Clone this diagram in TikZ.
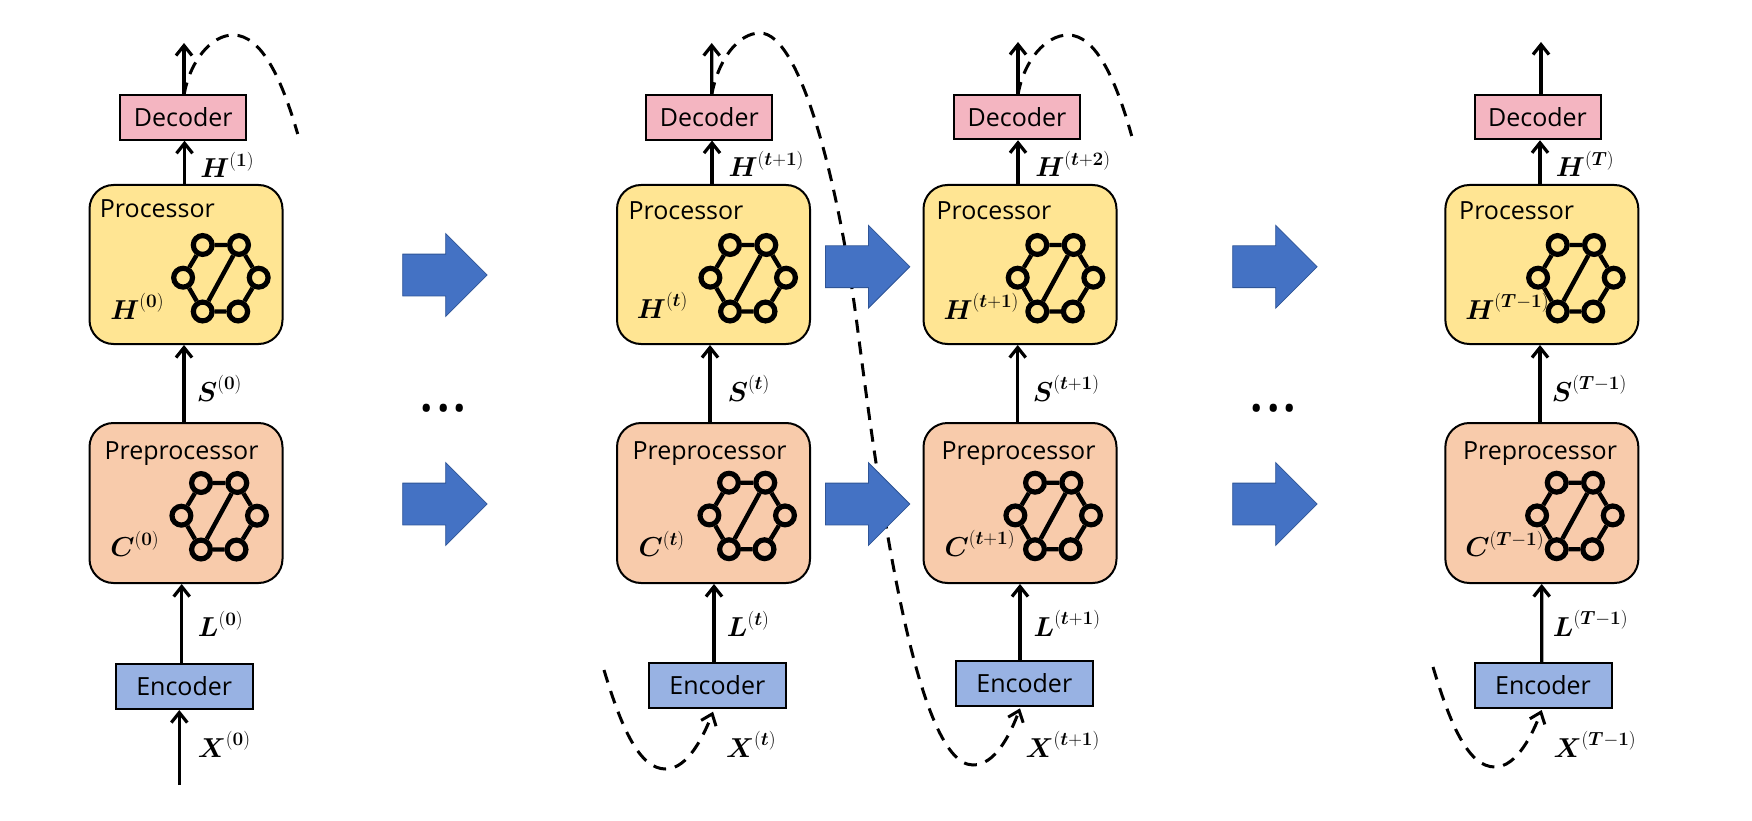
\documentclass[tikz,border=0pt]{standalone}
\usepackage{amsmath}
\usepackage[no-math]{fontspec}
\setmainfont{Open Sans}
\usetikzlibrary{arrows.meta,shapes.arrows}
\DeclareMathSizes{24.88}{24.88}{17.28}{12}
\definecolor{decC}{HTML}{F4B5C1}
\definecolor{encC}{HTML}{98B2E3}
\definecolor{procC}{HTML}{FFE593}
\definecolor{prepC}{HTML}{F8CBAB}
\definecolor{bluefill}{HTML}{4472C4}
\definecolor{blueline}{HTML}{2F5597}
\tikzset{
  boxtext/.style={font=\fontsize{25}{30}\selectfont,text=black},
  sqbox/.style={draw=black,line width=2pt,inner sep=0pt,outer sep=0pt,boxtext},
  decbox/.style={sqbox,fill=decC,minimum width=126pt,minimum height=44.5pt},
  encbox/.style={sqbox,fill=encC,minimum width=137pt,minimum height=45pt},
  bigbox/.style={draw=black,line width=2pt,rounded corners=24pt,inner sep=0pt,outer sep=0pt,minimum width=193pt},
  procbox/.style={bigbox,fill=procC,minimum height=159pt},
  prepbox/.style={bigbox,fill=prepC,minimum height=160pt},
  boxlabel/.style={boxtext,inner sep=0pt,anchor=base west},
  preplabel/.style={boxtext,inner sep=0pt,anchor=base},
  mlabel/.style={font=\fontsize{24.88}{30}\selectfont,scale=1.1,inner sep=0pt,anchor=base west,xshift=-1.5pt},
  gn/.style={circle,draw=black,line width=5.2pt,minimum size=18.8pt,inner sep=0pt},
  gedge/.style={line width=4.4pt,draw=black},
  conn/.style={line width=3.2pt,-{Straight Barb[length=10pt,width=16pt,line width=3.2pt]},shorten >=1pt},
  loopback/.style={line width=3pt,dash pattern=on 13pt off 9pt},
  loopend/.style={loopback,-{Straight Barb[length=10pt,width=16pt,line width=3pt]}},
  bluearrow/.style={single arrow,fill=bluefill,draw=blueline,line width=0.8pt,inner xsep=0pt,inner ysep=20.5pt,
    minimum height=84.4pt,single arrow head extend=20.5pt,anchor=tail},
  dots/.style={font=\fontsize{62}{64}\selectfont,inner sep=0pt,anchor=base}
}
\newcommand{\gnet}[3]{%
  \node[gn] (#1a) at (#2,#3) {};
  \node[gn] (#1b) at (#2+36.3,#3) {};
  \node[gn] (#1c) at (#2-19.6,#3+32.7) {};
  \node[gn] (#1d) at (#2+56,#3+32.7) {};
  \node[gn] (#1e) at (#2,#3+66.5) {};
  \node[gn] (#1f) at (#2+35.5,#3+66.5) {};
  \draw[gedge] (#1a)--(#1b) (#1b)--(#1d) (#1d)--(#1f) (#1f)--(#1e) (#1e)--(#1c) (#1c)--(#1a) (#1b)--(#1e);
}
\newcommand{\vc}[4]{\draw[conn] ([xshift=#2pt]#1.north) -- ([xshift=#4pt]#3.south);}
\newcommand{\mlab}[4]{\node[mlabel] (#1) at (#2,#3) {$#4$};}
\newcommand{\bH}{\boldsymbol{H}}
\newcommand{\bS}{\boldsymbol{S}}
\newcommand{\bC}{\boldsymbol{C}}
\newcommand{\bL}{\boldsymbol{L}}
\newcommand{\bX}{\boldsymbol{X}}
\newcommand{\zr}{^{(\mathbf{0})}}
\newcommand{\tsup}{^{(\boldsymbol{t})}}
\newcommand{\tone}{^{(\boldsymbol{t}+\mathbf{1})}}
\newcommand{\ttwo}{^{(\boldsymbol{t}+\mathbf{2})}}
\newcommand{\Tm}{^{(\boldsymbol{T}-\mathbf{1})}}
\begin{document}
\begin{tikzpicture}[x=1pt,y=-1pt]
\useasboundingbox[fill=white] (0,0) rectangle (1752,821);

% boxes
\node[decbox] (decA) at (183.25,117.5) {Decoder};
\node[procbox] (procA) at (186,264.5) {};
\node[prepbox] (prepA) at (186,503) {};
\node[encbox] (encA) at (184.2,686.5) {Encoder};

\node[decbox] (decB) at (709.35,117.3) {Decoder};
\node[procbox] (procB) at (713.5,264.5) {};
\node[prepbox] (prepB) at (713.5,503) {};
\node[encbox] (encB) at (717.35,685.5) {Encoder};

\node[decbox] (decC) at (1017,117) {Decoder};
\node[procbox] (procC) at (1020,264.5) {};
\node[prepbox] (prepC) at (1020,503) {};
\node[encbox] (encC) at (1024.3,683.3) {Encoder};

\node[decbox] (decD) at (1537.5,117) {Decoder};
\node[procbox] (procD) at (1541.85,264.5) {};
\node[prepbox] (prepD) at (1541.85,503) {};
\node[encbox] (encD) at (1543,685.3) {Encoder};

% box titles
\node[boxlabel] (ptA) at (99.7,217) {Processor};
\node[boxlabel] (ptB) at (628.3,219) {Processor};
\node[boxlabel] (ptC) at (936.3,219) {Processor};
\node[boxlabel] (ptD) at (1459,219) {Processor};
\node[preplabel] (qtA) at (181.5,459) {Preprocessor};
\node[preplabel] (qtB) at (709.6,459) {Preprocessor};
\node[preplabel] (qtC) at (1018.5,459) {Preprocessor};
\node[preplabel] (qtD) at (1540,459) {Preprocessor};

% graph icons
\gnet{gpA}{202.7}{245}
\gnet{gqA}{201}{483}
\gnet{gpB}{730}{245}
\gnet{gqB}{729}{482.7}
\gnet{gpC}{1037.3}{245}
\gnet{gqC}{1035}{482.7}
\gnet{gpD}{1557.7}{245}
\gnet{gqD}{1556.7}{482.7}

% free ends
\coordinate (outA) at (184,42);
\coordinate (outB) at (711.7,42);
\coordinate (outC) at (1018,41);
\coordinate (outD) at (1541,41);
\coordinate (inA) at (179.3,785);

% solid connectors
\draw[conn] ([xshift=0.75pt]decA.north) -- (outA);
\vc{procA}{-1.5}{decA}{1.25}
\vc{prepA}{-2}{procA}{-2}
\vc{encA}{-2.5}{prepA}{-4.3}
\draw[conn] (inA) -- ([xshift=-4.9pt]encA.south);

\draw[conn] ([xshift=2.35pt]decB.north) -- (outB);
\vc{procB}{-1.5}{decB}{2.65}
\vc{prepB}{-3.5}{procB}{-3.5}
\vc{encB}{-3.35}{prepB}{0.5}

\draw[conn] ([xshift=1pt]decC.north) -- (outC);
\vc{procC}{-2}{decC}{1}
\vc{prepC}{-2.3}{procC}{-2.3}
\vc{encC}{-4.3}{prepC}{0}

\draw[conn] ([xshift=3.5pt]decD.north) -- (outD);
\vc{procD}{-1.85}{decD}{2.5}
\vc{prepD}{-1.85}{procD}{-1.85}
\vc{encD}{-1.3}{prepD}{-0.15}

% dashed loop-backs
\coordinate (freeA) at (297.7,134);
\coordinate (freeC) at (1131.7,136);
\coordinate (freeB) at (604,670);
\coordinate (freeD) at (1433,667);
\draw[loopback] ([xshift=0.75pt]decA.north) .. controls (190,60) and (212,35) .. (233,35)
  .. controls (262,35) and (282,80) .. (freeA);
\draw[loopback] ([xshift=1pt]decC.north) .. controls (1024,60) and (1046,35) .. (1068,35)
  .. controls (1096,35) and (1116,80) .. (freeC);
\draw[loopend] ([xshift=2.35pt]decB.north) .. controls (718,60) and (738,33) .. (760,33)
  .. controls (800,33) and (838,180) .. (856.7,322)
  .. controls (878,487) and (915,765) .. (973,765)
  .. controls (995,765) and (1010,735) .. ([shift={(-4.3pt,-2.5pt)}]encC.south);
\draw[loopend] (freeB) .. controls (622,730) and (640,769) .. (665.7,769)
  .. controls (688,769) and (704,735) .. ([shift={(-4.3pt,-3.7pt)}]encB.south);
\draw[loopend] (freeD) .. controls (1451,727) and (1469,767) .. (1495,767)
  .. controls (1517,767) and (1533,733) .. ([shift={(-1.3pt,-2.2pt)}]encD.south);

% big blue arrows
\node[bluearrow] (flowA1) at (402.3,275) {};
\node[bluearrow] (flowA2) at (402.3,504) {};
\node[bluearrow] (flowB1) at (825,266.7) {};
\node[bluearrow] (flowB2) at (825,504) {};
\node[bluearrow] (flowD1) at (1232.3,266.7) {};
\node[bluearrow] (flowD2) at (1232.3,504) {};

% ellipses
\node[dots] (dotsA) at (443.3,411) {...};
\node[dots] (dotsD) at (1273.7,411) {...};

% math labels
\mlab{lHa}{201.7}{177.7}{\bH^{(\mathbf{1})}}
\mlab{lHb}{111.7}{319.3}{\bH\zr}
\mlab{lSa}{198.3}{401}{\bS\zr}
\mlab{lCa}{111.7}{556.7}{\bC\zr}
\mlab{lLa}{199.3}{636.7}{\bL\zr}
\mlab{lXa}{199.3}{757.3}{\bX\zr}

\mlab{mHa}{730}{176.7}{\bH\tone}
\mlab{mHb}{638.3}{318.3}{\bH\tsup}
\mlab{mSa}{729}{401}{\bS\tsup}
\mlab{mCa}{640}{556.7}{\bC\tsup}
\mlab{mLa}{728.3}{636.7}{\bL\tsup}
\mlab{mXa}{727.5}{757.3}{\bX\tsup}

\mlab{nHa}{1036.7}{176.7}{\bH\ttwo}
\mlab{nHb}{945}{319}{\bH\tone}
\mlab{nSa}{1034.3}{401}{\bS\tone}
\mlab{nCa}{946}{556}{\bC\tone}
\mlab{nLa}{1035}{636}{\bL\tone}
\mlab{nXa}{1027}{757}{\bX\tone}

\mlab{oHa}{1557.3}{176.7}{\bH^{(\boldsymbol{T})}}
\mlab{oHb}{1466.7}{319}{\bH\Tm}
\mlab{oSa}{1553.3}{401}{\bS\Tm}
\mlab{oCa}{1466.7}{556.7}{\bC\Tm}
\mlab{oLa}{1554.3}{636}{\bL\Tm}
\mlab{oXa}{1555}{757}{\bX\Tm}
\end{tikzpicture}
\end{document}
